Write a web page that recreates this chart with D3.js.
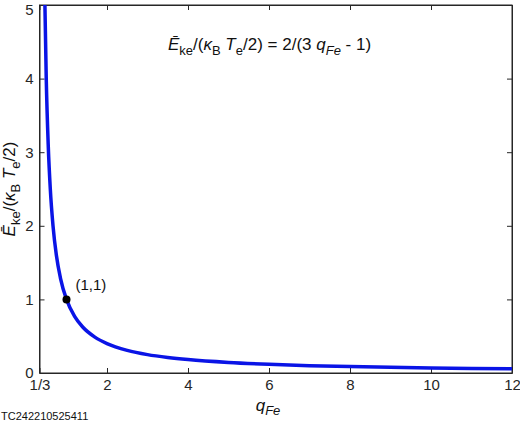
<!DOCTYPE html><html><head><meta charset="utf-8"><script src="https://cdn.jsdelivr.net/npm/d3@7"></script>
<style>body{margin:0;background:#fff}text{font-family:Arial,"Liberation Sans",sans-serif}</style></head><body><svg width="520" height="426"></svg><script>
const qValues=[0.467,0.5,0.55,0.6,0.667,0.75,0.85,1,1.2,1.4,1.7,2,2.5,3,3.5,4,5,6,7,8,9,10,11,12];
const eValues=[5,4,3.08,2.5,2,1.6,1.29,1,0.77,0.625,0.488,0.4,0.308,0.25,0.211,0.182,0.143,0.118,0.1,0.087,0.077,0.069,0.0625,0.0571];
const xTicks=[1/3,2,4,6,8,10,12];
const xTickLabels=["1/3","2","4","6","8","10","12"];
const yTicks=[0,1,2,3,4,5];
const marker={q:1,e:1,label:"(1,1)"};
const svg=d3.select("svg");
const L=39.5,R=512,T=5,B=373;
const x=d3.scaleLinear().domain([1/3,12]).range([L,R]);
const y=d3.scaleLinear().domain([0,5]).range([B,T]);
const g=svg.append("g");
g.append("rect").attr("x",L).attr("y",T).attr("width",R-L).attr("height",B-T).attr("fill","none").attr("stroke","#262626").attr("stroke-width",1);
const xa=g.append("g").attr("transform",`translate(0,${B})`).call(d3.axisBottom(x).tickValues(xTicks).tickFormat((d,i)=>xTickLabels[i]).tickSize(-5).tickSizeOuter(0).tickPadding(6));
const xt=g.append("g").attr("transform",`translate(0,${T})`).call(d3.axisTop(x).tickValues(xTicks).tickFormat("").tickSize(-5).tickSizeOuter(0));
const ya=g.append("g").attr("transform",`translate(${L},0)`).call(d3.axisLeft(y).tickValues(yTicks).tickFormat(d3.format("d")).tickSize(-5).tickSizeOuter(0).tickPadding(6));
const yr=g.append("g").attr("transform",`translate(${R},0)`).call(d3.axisRight(y).tickValues(yTicks).tickFormat("").tickSize(-5).tickSizeOuter(0));
[xa,xt,ya,yr].forEach(a=>{a.select(".domain").attr("stroke","#262626");a.selectAll("line").attr("stroke","#262626");a.selectAll("text").attr("font-size",15).attr("fill","#262626").attr("font-family","Arial, Liberation Sans, sans-serif");});
ya.selectAll("text").filter(d=>d===5).attr("dy","0.6em");
g.append("path").datum(qValues.map((q,i)=>[q,eValues[i]])).attr("fill","none").attr("stroke","#0a14e6").attr("stroke-width",3.5)
 .attr("d",d3.line().x(d=>x(d[0])).y(d=>y(d[1])).curve(d3.curveMonotoneX));
g.append("circle").attr("cx",x(marker.q)).attr("cy",y(marker.e)).attr("r",4).attr("fill","#000");
g.append("text").attr("x",x(marker.q)+9).attr("y",y(marker.e)-9).attr("font-size",15).attr("fill","#111").text(marker.label);
const ann=svg.append("text").attr("x",168).attr("y",50).attr("font-size",17).attr("fill","#111");
ann.append("tspan").attr("font-style","italic").text("Ē");
ann.append("tspan").attr("dy",5).attr("font-size",13).text("ke");
ann.append("tspan").attr("dy",-5).text("/(");
ann.append("tspan").attr("font-style","italic").text("κ");
ann.append("tspan").attr("dy",5).attr("font-size",13).text("B");
ann.append("tspan").attr("dy",-5).attr("font-style","italic").text(" T");
ann.append("tspan").attr("dy",5).attr("font-size",13).text("e");
ann.append("tspan").attr("dy",-5).text("/2) = 2/(3 ");
ann.append("tspan").attr("font-style","italic").text("q");
ann.append("tspan").attr("dy",5).attr("font-size",13).attr("font-style","italic").text("Fe");
ann.append("tspan").attr("dy",-5).text(" - 1)");
const xl=svg.append("text").attr("x",268).attr("y",411).attr("text-anchor","middle").attr("font-size",17).attr("fill","#111");
xl.append("tspan").attr("font-style","italic").text("q");
xl.append("tspan").attr("dy",4).attr("font-size",13).attr("font-style","italic").text("Fe");
const yl=svg.append("text").attr("transform","translate(15,189) rotate(-90)").attr("text-anchor","middle").attr("font-size",17).attr("fill","#111");
yl.append("tspan").attr("font-style","italic").text("Ē");
yl.append("tspan").attr("dy",5).attr("font-size",13).text("ke");
yl.append("tspan").attr("dy",-5).text("/(");
yl.append("tspan").attr("font-style","italic").text("κ");
yl.append("tspan").attr("dy",5).attr("font-size",13).text("B");
yl.append("tspan").attr("dy",-5).attr("font-style","italic").text(" T");
yl.append("tspan").attr("dy",5).attr("font-size",13).text("e");
yl.append("tspan").attr("dy",-5).text("/2)");
svg.append("text").attr("x",1).attr("y",420).attr("font-size",11).attr("fill","#111").text("TC242210525411");
</script></body></html>
